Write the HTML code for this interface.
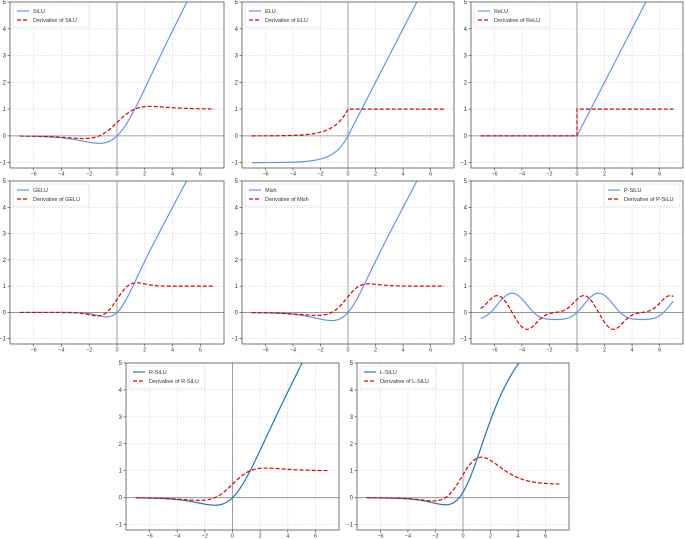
<!DOCTYPE html>
<html><head><meta charset="utf-8"><style>
html,body{margin:0;padding:0;background:#fff}
svg{display:block;font-family:"Liberation Sans",sans-serif}
</style></head><body>
<svg id="fig" width="685" height="539" viewBox="0 0 685 539"></svg>
<script>
// ---- data ----
const xTicks=[-6,-4,-2,0,2,4,6];
const yTicks=[-1,0,1,2,3,4,5];
const xTickLabels=["−6","−4","−2","0","2","4","6"];
const yTickLabels=["−1","0","1","2","3","4","5"];
const panelNames=["SiLU","ELU","ReLU","GELU","Mish","P-SiLU","R-SiLU","L-SiLU"];
const xDomain=[-7.7,7.7];
const yDomain=[-1.2,5];
const sampleRange=[-7,7];
// ---- functions ----
const sig=x=>1/(1+Math.exp(-x));
const silu=x=>x*sig(x);
const dsilu=x=>{const s=sig(x);return s+x*s*(1-s);};
function erf(x){const t=1/(1+0.3275911*Math.abs(x));const y=1-(((((1.061405429*t-1.453152027)*t)+1.421413741)*t-0.284496736)*t+0.254829592)*t*Math.exp(-x*x);return x>=0?y:-y;}
const Phi=x=>0.5*(1+erf(x/Math.SQRT2));
const phi=x=>Math.exp(-x*x/2)/Math.sqrt(2*Math.PI);
const sp=x=>Math.log(1+Math.exp(x));
const mish=x=>x*Math.tanh(sp(x));
const num=f=>x=>(f(x+1e-4)-f(x-1e-4))/2e-4;
const dL=x=>dsilu(x)*(0.5+1.2*Math.exp(-(x/3)*(x/3)));
function Lsilu(x){let v=silu(-7),h=0.01;for(let t=-7;t<x;t+=h)v+=dL(t+h/2)*Math.min(h,x-t);return v;}
const fns=[
 [silu,dsilu],
 [x=>x>0?x:Math.exp(x)-1,x=>x>0?1:Math.exp(x)],
 [x=>Math.max(0,x),x=>x>=0?1:0],
 [x=>x*Phi(x),x=>Phi(x)+x*phi(x)],
 [mish,num(mish)],
 [x=>silu(Math.sin(x)),x=>Math.cos(x)*dsilu(Math.sin(x))],
 [silu,dsilu],
 [Lsilu,dL]
];
const boxes=[[10,2,224,168],[242,2,454,168],[471,2,683,168],
 [10,181,224,344],[242,181,454,344],[471,181,683,344],
 [126,363,339,530],[357,363,569,530]];
const NS="http://www.w3.org/2000/svg";
const svg=document.getElementById("fig");
function mk(tag,attrs,parent){const e=document.createElementNS(NS,tag);for(const k in attrs)e.setAttribute(k,attrs[k]);(parent||svg).appendChild(e);return e;}
boxes.forEach((b,i)=>{
 const [L,T,R,B]=b;
 const sx=v=>L+(v-xDomain[0])/(xDomain[1]-xDomain[0])*(R-L);
 const sy=v=>B-(v-yDomain[0])/(yDomain[1]-yDomain[0])*(B-T);
 const g=mk("g",{});
 
 
 const clipId="c"+i;
 const cp=mk("clipPath",{id:clipId},g);mk("rect",{x:L,y:T,width:R-L,height:B-T},cp);
 xTicks.forEach((t,j)=>{
  const l=mk("line",{x1:sx(t),x2:sx(t),y1:T,y2:B,stroke:"#ccc","stroke-width":0.6,"stroke-dasharray":"1.5,1.5"},g);
  
  
  mk("line",{x1:sx(t),x2:sx(t),y1:B,y2:B+2.5,stroke:"#333","stroke-width":0.6},g);
  const tx=mk("text",{x:sx(t),y:B+7.5,"font-size":5.5,fill:"#333","text-anchor":"middle"},g);
  tx.textContent=xTickLabels[j];
  
  
 });
 yTicks.forEach((t,j)=>{
  const l=mk("line",{x1:L,x2:R,y1:sy(t),y2:sy(t),stroke:"#ccc","stroke-width":0.6,"stroke-dasharray":"1.5,1.5"},g);
  
  
  mk("line",{x1:L-2.5,x2:L,y1:sy(t),y2:sy(t),stroke:"#333","stroke-width":0.6},g);
  const tx=mk("text",{x:L-4,y:sy(t)+2,"font-size":6,fill:"#333","text-anchor":"end"},g);
  tx.textContent=yTickLabels[j];
  
  
 });
 mk("line",{x1:sx(0),x2:sx(0),y1:T,y2:B,stroke:"#888","stroke-width":0.8},g);
 mk("line",{x1:L,x2:R,y1:sy(0),y2:sy(0),stroke:"#888","stroke-width":0.8},g);
 const [f,df]=fns[i];
 let p1="",p2="";
 const N=400;
 for(let k=0;k<=N;k++){
  let x=sampleRange[0]+(sampleRange[1]-sampleRange[0])*k/N;
  p1+=(k?"L":"M")+sx(x).toFixed(2)+","+sy(f(x)).toFixed(2);
  if(i===2&&k===N/2){p2+="L"+sx(0).toFixed(2)+","+sy(0).toFixed(2);}
  p2+=(k?"L":"M")+sx(x).toFixed(2)+","+sy(df(x)).toFixed(2);
 }
 const col=i>=6?"#1f77b4":"#6495ed";
 const a=mk("path",{d:p1,fill:"none",stroke:col,"stroke-width":1.2,"clip-path":"url(#"+clipId+")"},g);
 
 
 const d=mk("path",{d:p2,fill:"none",stroke:"#e00000","stroke-width":1.2,"stroke-dasharray":"4,2","clip-path":"url(#"+clipId+")"},g);
 
 
 mk("rect",{x:L,y:T,width:R-L,height:B-T,fill:"none",stroke:"#555","stroke-width":0.8},g);
 const lw=76,lh=22;
 const lx=i===5?R-lw-3:L+3, ly=T+3;
 const lg=mk("g",{},g);
 
 
 mk("rect",{x:lx,y:ly,width:lw,height:lh,fill:"#fff","fill-opacity":0.85,stroke:"#ddd","stroke-width":0.6,rx:1.5},lg);
 mk("line",{x1:lx+4,x2:lx+16,y1:ly+6,y2:ly+6,stroke:col,"stroke-width":1.2},lg);
 mk("line",{x1:lx+4,x2:lx+16,y1:ly+15,y2:ly+15,stroke:"#e00000","stroke-width":1.2,"stroke-dasharray":"4,2"},lg);
 const t1=mk("text",{x:lx+20,y:ly+8,"font-size":5.5,fill:"#333"},lg);t1.textContent=panelNames[i];
 
 
 const t2=mk("text",{x:lx+20,y:ly+17,"font-size":5.5,fill:"#333"},lg);t2.textContent="Derivative of "+panelNames[i];
 
 
});
</script>
</body></html>
